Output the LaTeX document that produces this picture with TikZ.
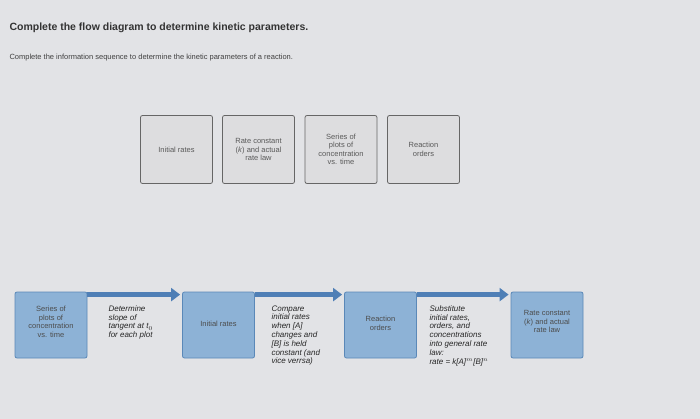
\documentclass[tikz,border=0pt]{standalone}
\usepackage{fontspec}
\setmainfont{Liberation Sans}
\usetikzlibrary{arrows.meta}
\definecolor{bg}{HTML}{E2E3E6}
\definecolor{gbox}{HTML}{DDDDDF}
\definecolor{bbox}{HTML}{8DB2D6}
\definecolor{bline}{HTML}{5A88B8}
\definecolor{arr}{HTML}{4F7FB6}
\begin{document}
\begin{tikzpicture}[x=1pt,y=-1pt,
  gb/.style={draw=gray!80!black,fill=gbox,rounded corners=2pt,minimum width=72pt,minimum height=68pt,align=center,font=\fontsize{7.5}{8.5}\selectfont,text=gray!70!black,line width=0.8pt},
  bb/.style={draw=bline,fill=bbox,rounded corners=2pt,minimum width=72pt,minimum height=66pt,align=center,font=\fontsize{7.5}{8.5}\selectfont,text=black!70,line width=0.8pt},
  bt/.style={align=center,font=\fontsize{7.5}{8.5}\selectfont,text=black!70,anchor=north},
  st/.style={align=left,font=\fontsize{8}{8.8}\selectfont\itshape,text=black!85,anchor=north west},
  ar/.style={draw=arr,line width=4.5pt,-{Triangle[length=9pt,width=13pt]}}]
\fill[bg] (0,0) rectangle (700,419);
\node[anchor=west,font=\fontsize{10.5}{12}\selectfont\bfseries,text=black!80] (t) at (6,28) {Complete the flow diagram to determine kinetic parameters.};
\node[anchor=west,font=\fontsize{7.5}{9}\selectfont,text=black!75] (s) at (6,58) {Complete the information sequence to determine the kinetic parameters of a reaction.};
\node[gb] (g1) at (176.5,149.5) {Initial rates};
\node[gb] (g2) at (258.5,149.5) {Rate constant\\(\textit{k}) and actual\\rate law};
\node[gb] (g3) at (341,149.5) {Series of\\plots of\\concentration\\vs. time};
\node[gb] (g4) at (423.5,149.5) {Reaction\\orders};
\node[bb] (b1) at (51,325) {};
\node[bb] (b2) at (218.5,325) {};
\node[bb] (b3) at (380.5,325) {};
\node[bb] (b4) at (547,325) {};
\node[bt] (l1) at (51,303) {Series of\\plots of\\concentration\\vs. time};
\node[bt] (l2) at (218.5,318) {Initial rates};
\node[bt] (l3) at (380.5,313) {Reaction\\orders};
\node[bt] (l4) at (547,307) {Rate constant\\(\textit{k}) and actual\\rate law};
\draw[ar] ([yshift=-3pt]b1.north east) -- ([yshift=-3pt,xshift=-2pt]b2.north west);
\draw[ar] ([yshift=-3pt]b2.north east) -- ([yshift=-3pt,xshift=-2pt]b3.north west);
\draw[ar] ([yshift=-3pt]b3.north east) -- ([yshift=-3pt,xshift=-2pt]b4.north west);
\node[st] (s1) at (105,302) {Determine\\slope of\\tangent at \textit{t}$_0$\\for each plot};
\node[st] (s2) at (268,302) {Compare\\initial rates\\when [A]\\changes and\\[0pt][B] is held\\constant (and\\vice verrsa)};
\node[st] (s3) at (426,302) {Substitute\\initial rates,\\orders, and\\concentrations\\into general rate\\law:\\rate = \textit{k}[A]$^{m}$[B]$^{n}$};
\end{tikzpicture}
\end{document}
